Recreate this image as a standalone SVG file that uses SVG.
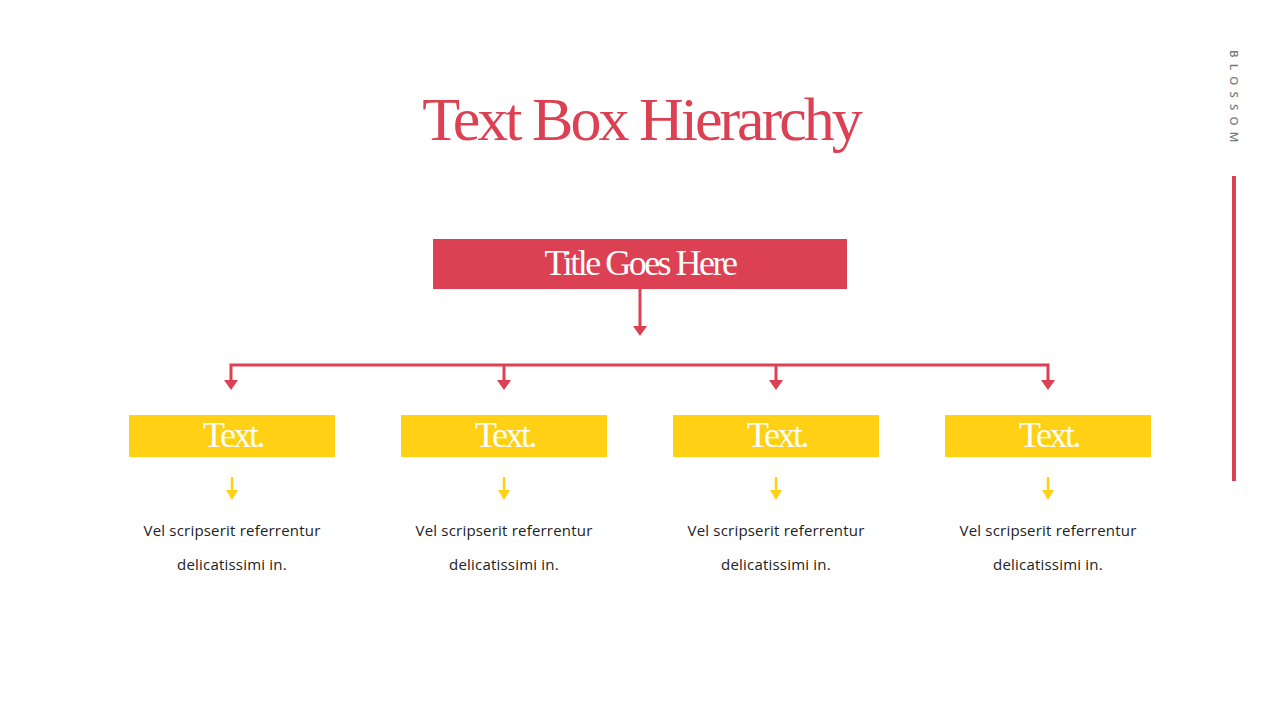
<svg xmlns="http://www.w3.org/2000/svg" width="1280" height="720" viewBox="0 0 1280 720">
  <defs>
    <style>
      .red{fill:#DC4153}
      .yel{fill:#FFD013}
      .serif{font-family:"Liberation Serif","DejaVu Serif",serif;fill:#fff;text-anchor:middle}
      .body{font-family:"Open Sans","Noto Sans",sans-serif;font-size:15px;letter-spacing:0.2px;fill:#222;text-anchor:middle}
      .rline{stroke:#DC4153;stroke-width:3;fill:none}
      .yline{stroke:#FFD013;stroke-width:2.5;fill:none}
    </style>
  </defs>
  <rect width="1280" height="720" fill="#fff"/>

  <text x="641" y="140" font-family="Liberation Serif, DejaVu Serif, serif" font-size="62" letter-spacing="-3" fill="#DC4153" text-anchor="middle">Text Box Hierarchy</text>

  <g id="side">
    <text transform="translate(1230,50) rotate(90)" font-family="Open Sans, Liberation Sans, sans-serif" font-size="11.5" font-weight="600" letter-spacing="6.2" fill="#7a7a7a">BLOSSOM</text>
    <rect x="1232" y="176" width="4" height="305" class="red"/>
  </g>

  <g id="root">
    <rect x="433" y="239" width="414" height="50" class="red"/>
    <text x="640" y="275" class="serif" font-size="36" letter-spacing="-2.5">Title Goes Here</text>
  </g>

  <g id="connectors">
    <line x1="640" y1="289" x2="640" y2="327" class="rline"/>
    <path d="M633,326 L647,326 L640,336 Z" class="red"/>
    <path d="M231,381 V365 H1048 V381" class="rline"/>
    <line x1="504" y1="365" x2="504" y2="381" class="rline"/>
    <line x1="776" y1="365" x2="776" y2="381" class="rline"/>
    <path d="M224,380 L238,380 L231,390 Z" class="red"/>
    <path d="M497,380 L511,380 L504,390 Z" class="red"/>
    <path d="M769,380 L783,380 L776,390 Z" class="red"/>
    <path d="M1041,380 L1055,380 L1048,390 Z" class="red"/>
    <line x1="232" y1="477" x2="232" y2="491" class="yline"/>
    <line x1="504" y1="477" x2="504" y2="491" class="yline"/>
    <line x1="776" y1="477" x2="776" y2="491" class="yline"/>
    <line x1="1048" y1="477" x2="1048" y2="491" class="yline"/>
    <path d="M226,490 L238,490 L232,500 Z" class="yel"/>
    <path d="M498,490 L510,490 L504,500 Z" class="yel"/>
    <path d="M770,490 L782,490 L776,500 Z" class="yel"/>
    <path d="M1042,490 L1054,490 L1048,500 Z" class="yel"/>
  </g>

  <g id="node1">
    <rect x="129" y="415" width="206" height="42" class="yel"/>
    <text x="233" y="447" class="serif" font-size="36" letter-spacing="-2.5">Text.</text>
    <text x="232" y="536" class="body">Vel scripserit referrentur</text>
    <text x="232" y="570" class="body">delicatissimi in.</text>
  </g>
  <g id="node2">
    <rect x="401" y="415" width="206" height="42" class="yel"/>
    <text x="505" y="447" class="serif" font-size="36" letter-spacing="-2.5">Text.</text>
    <text x="504" y="536" class="body">Vel scripserit referrentur</text>
    <text x="504" y="570" class="body">delicatissimi in.</text>
  </g>
  <g id="node3">
    <rect x="673" y="415" width="206" height="42" class="yel"/>
    <text x="777" y="447" class="serif" font-size="36" letter-spacing="-2.5">Text.</text>
    <text x="776" y="536" class="body">Vel scripserit referrentur</text>
    <text x="776" y="570" class="body">delicatissimi in.</text>
  </g>
  <g id="node4">
    <rect x="945" y="415" width="206" height="42" class="yel"/>
    <text x="1049" y="447" class="serif" font-size="36" letter-spacing="-2.5">Text.</text>
    <text x="1048" y="536" class="body">Vel scripserit referrentur</text>
    <text x="1048" y="570" class="body">delicatissimi in.</text>
  </g>
</svg>
